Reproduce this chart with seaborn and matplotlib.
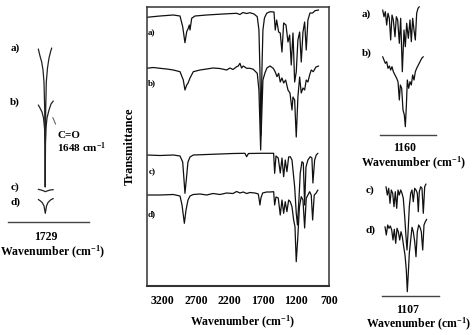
import numpy as np
import pandas as pd
import matplotlib
matplotlib.use("Agg")
import matplotlib.pyplot as plt
import seaborn as sns

# ---------------- data (wavenumber cm-1, relative transmittance) ----------------
# main panel spectra
a_wn = [3440, 3240, 3041, 2940, 2900, 2866, 2840, 2816, 2801, 2790, 2765, 2716, 2540, 2296, 2090, 2041, 1996,
        1940, 1891, 1830, 1781, 1756, 1741, 1726, 1711, 1696, 1673, 1640, 1590, 1530, 1511, 1490, 1460, 1436,
        1410, 1385, 1350, 1320, 1295, 1271, 1245, 1220, 1196, 1171, 1145, 1121, 1095, 1070, 1046, 1021, 990,
        950, 915, 860]
a_T = [95.7, 97, 98, 97, 86.3, 70.3, 81.3, 84.7, 88, 83, 94.7, 97, 98, 99, 99.7, 98.5, 100.5,
       99.5, 100.3, 99, 96.3, 83, 43, -22, 43, 83, 95, 99.7, 101.3, 101, 83, 93, 81, 80,
       61, 90, 88, 71, 78, 48, 80, 31, 41, 73, 81, 51, 81, 91, 63, 93, 100,
       100, 102.3, 103]

b_wn = [3440, 3345, 3240, 3140, 3041, 2940, 2891, 2866, 2840, 2821, 2790, 2741, 2640, 2540, 2446, 2341, 2240,
        2190, 2146, 2090, 2066, 2041, 2016, 1991, 1940, 1891, 1841, 1781, 1756, 1730, 1711, 1696, 1666, 1636,
        1590, 1541, 1511, 1485, 1460, 1436, 1410, 1385, 1355, 1320, 1290, 1260, 1245, 1220, 1196, 1171, 1145,
        1121, 1095, 1070, 1046, 1021, 995, 971, 941, 900, 860]
b_T = [99.7, 100.5, 99.7, 99, 98, 96.3, 88, 78, 83, 84.7, 90, 96.3, 98, 99, 100, 99.5, 98,
       100, 98.5, 101.3, 102, 104.7, 100, 102, 99.7, 99.7, 98.7, 94.7, 78, 18, 58, 88, 95, 100,
       102, 99.7, 96, 91.3, 94.7, 86, 90, 85, 88, 78, 75, 58, 71, 68, 31, 71, 91,
       75, 80, 78, 88, 86, 93, 98, 96.3, 101, 102]

c_wn = [3440, 3240, 3041, 2940, 2900, 2880, 2866, 2846, 2821, 2790, 2741, 2540, 2341, 2146, 1966, 1940, 1913,
        1741, 1535, 1520, 1500, 1466, 1436, 1410, 1385, 1361, 1336, 1310, 1286, 1260, 1220, 1196, 1178, 1156,
        1136, 1110, 1090, 1070, 1050, 1021, 986, 961, 946, 920, 896, 871]
c_T = [100, 99.5, 100, 99, 93, 75, 61.7, 75, 93, 98, 100, 100.5, 101, 101.5, 101.7, 98.3, 101.5,
       101.7, 101.7, 81.7, 99, 97, 82, 97, 78.3, 95, 83.3, 98, 98.3, 95, 68.3, 42, 30, 55,
       82, 93.3, 92, 50, 88, 95, 98.3, 97, 72, 95, 100, 101.7]

d_wn = [3440, 3240, 3041, 2940, 2910, 2875, 2850, 2820, 2790, 2741, 2640, 2540, 2446, 2341, 2240, 2146, 2090,
        2041, 1991, 1940, 1891, 1815, 1766, 1751, 1741, 1726, 1700, 1640, 1590, 1535, 1520, 1500, 1466, 1436,
        1410, 1385, 1361, 1336, 1310, 1286, 1260, 1235, 1215, 1196, 1175, 1148, 1121, 1095, 1070, 1046, 1021,
        995, 971, 950, 926, 900, 871]
d_T = [98, 98, 98.5, 97, 88, 69.7, 83, 93, 97, 98.5, 99, 98, 99.5, 98.5, 100, 99.5, 101.5,
       100, 101, 99.5, 100.5, 100, 99, 93, 88, 95, 100, 101, 101, 101.3, 88, 96, 95, 78,
       93, 79.7, 91.3, 81.3, 93, 91.3, 86.3, 73, 66.3, 31.3, 53, 86.3, 96.3, 93, 65, 94.7, 98,
       101.3, 98, 73, 98, 99.7, 103]

# left inset (around 1729 cm-1)
ia_wn = [1743, 1739.6, 1736.2, 1733.6, 1731.6, 1730.2, 1729.2, 1728.2, 1727, 1724.6, 1721.6, 1718.6, 1716.2]
ia_T = [101, 94, 88, 80, 68, 40, -37, 40, 68, 82, 92, 98, 102]
ib_wn = [1743, 1739.6, 1735.6, 1732.6, 1730.6, 1729, 1727.6, 1725.6, 1721.6, 1717.6, 1713]
ib_T = [97, 94, 90, 84, 74, 57, 74, 84, 92, 98, 101]
ic_wn = [1743, 1737.6, 1732.6, 1729, 1725.6, 1719.6, 1713]
ic_T = [100.7, 100, 99.2, 98.3, 99, 100, 100.3]
id_wn = [1743, 1738.6, 1734.6, 1731.6, 1729, 1726.6, 1723.6, 1718.6, 1713]
id_T = [100.5, 99, 97, 94, 86.7, 94, 97.5, 100, 101.5]

# top right inset (around 1160 cm-1)
ra_wn = [1249.3, 1244, 1238.7, 1233.3, 1228, 1222.7, 1217.3, 1212, 1206.7, 1200, 1194.7, 1189.3, 1182.7, 1177.3,
         1170.7, 1164, 1158.7, 1153.3, 1146.7, 1140, 1134.7, 1129.3, 1124, 1118.7, 1113.3, 1108, 1102.7]
ra_T = [100, 93.3, 98.3, 85, 96.7, 91.7, 70, 95, 90, 73.3, 93.3, 90, 66.7, 91.7,
        38.3, 80, 63.3, 86.7, 71.7, 90, 68.3, 91.7, 80, 70, 96.7, 101.7, 103.3]
rb_wn = [1249.3, 1244, 1238.7, 1233.3, 1228, 1222.7, 1217.3, 1212, 1206.7, 1200, 1193.3, 1188, 1182.7, 1178.7,
         1173.3, 1168, 1162.7, 1158.7, 1154.7, 1150.7, 1145.3, 1140, 1134.7, 1129.3, 1124, 1118.7, 1113.3, 1106.7,
         1100, 1093.3, 1086.7]
rb_T = [100.3, 97, 93.7, 95.3, 88.7, 91, 87, 90.3, 85.3, 82, 78.7, 75.3, 57, 72,
        68.7, 47, 42, 30.3, 50.3, 77, 68.7, 75.3, 72, 82, 77, 85.3, 88.7, 92,
        95.3, 98.7, 100.3]

# bottom right inset (around 1107 cm-1)
rc_wn = [1193.8, 1188.5, 1183, 1177.8, 1172.6, 1167, 1161.8, 1156.6, 1151, 1145.8, 1140.6, 1135, 1129.8, 1124.6,
         1119, 1113.8, 1109.8, 1105.8, 1100.6, 1095, 1089.8, 1084.6, 1079, 1073.8, 1068.6, 1064.6, 1060.6, 1055,
         1049.8, 1044.6, 1039, 1033.8]
rc_T = [100.3, 92, 98.7, 83.7, 97, 93.7, 80.3, 95.3, 78.7, 97, 92, 97, 93.7, 88.7,
        70.3, 50.3, 37, 53.7, 80.3, 93.7, 97, 85.3, 98.7, 97, 93.7, 75.3, 95.3, 100.3,
        98.7, 73.7, 100.3, 103]
rd_wn = [1197.8, 1192.6, 1187, 1181.8, 1176.6, 1171, 1165.8, 1160.6, 1155, 1149.8, 1144.6, 1139, 1133.8, 1128.6,
         1123, 1117.8, 1112.6, 1108.6, 1104.6, 1100.6, 1095, 1089.8, 1084.6, 1079, 1073.8, 1068.6, 1063, 1057.8,
         1052.6, 1047, 1041.8, 1036.6, 1031]
rd_T = [99.3, 91, 101, 97.7, 100, 96, 86, 96.7, 82.7, 97.7, 94.3, 86, 94.3, 89.3,
        79.3, 71, 56, 34.3, 52.7, 72.7, 86, 98.7, 94.3, 84.3, 69.3, 94.3, 101, 98.7,
        94.3, 76, 101, 104.3, 106.7]

main_ticks = [3200, 2700, 2200, 1700, 1200, 700]
main_tick_labels = ["3200", "2700", "2200", "1700", "1200", "700"]
labels = ["a)", "b)", "c)", "d)"]

# ---------------- style ----------------
sns.set_style("white")
plt.rcParams["font.family"] = ["Liberation Serif", "DejaVu Serif"]
plt.rcParams["font.weight"] = "bold"
plt.rcParams["mathtext.fontset"] = "custom"
plt.rcParams["mathtext.rm"] = "Liberation Serif:bold"
plt.rcParams["mathtext.bf"] = "Liberation Serif:bold"
plt.rcParams["mathtext.it"] = "Liberation Serif:bold"

W, H = 474, 335
fig = plt.figure(figsize=(W / 100, H / 100), dpi=100)
fig.patch.set_facecolor("white")


def box(x0, y0, x1, y1):
    return fig.add_axes([x0 / W, 1 - y1 / H, (x1 - x0) / W, (y1 - y0) / H])


def ftext(px, py, s, size, ha="center", va="center", rot=0):
    fig.text(px / W, 1 - py / H, s, fontsize=size, ha=ha, va=va, rotation=rot,
             fontweight="bold", color="black")


def trace(ax, wn, T, offset, lw=0.9, color="#111111"):
    df = pd.DataFrame({"wn": wn, "y": np.asarray(T, dtype=float) + offset})
    sns.lineplot(data=df, x="wn", y="y", ax=ax, sort=False, estimator=None,
                 color=color, lw=lw)


def inset_axis(axi, ticks, ticklabels, pad):
    axi.set_xticks(ticks)
    axi.set_xticklabels(ticklabels, fontsize=8.5, fontweight="bold")
    axi.set_yticks([])
    axi.tick_params(axis="x", direction="inout", length=4, width=0.9, pad=pad, colors="black")
    axi.set_xlabel("")
    axi.set_ylabel("")
    axi.patch.set_alpha(0)
    for k in ["left", "right", "top"]:
        axi.spines[k].set_visible(False)
    axi.spines["bottom"].set_color("#444444")
    axi.spines["bottom"].set_linewidth(1.0)


WNLABEL = r"Wavenumber (cm$^{-1}$)"
SPINE = "#333333"

# ---------------- main panel ----------------
ax = box(146.7, 7, 329.3, 286)
for wn, T, off in [(a_wn, a_T, 173), (b_wn, b_T, 118), (c_wn, c_T, 31), (d_wn, d_T, -7)]:
    trace(ax, wn, T, off)
ax.set_xlim(3440, 700)
ax.set_ylim(0, 279)
ax.set_xticks(main_ticks)
ax.set_xticklabels(main_tick_labels, fontsize=8.5, fontweight="bold")
ax.set_yticks([])
ax.tick_params(axis="x", direction="out", length=2.5, width=1, pad=4, colors="black")
ax.set_xlabel("")
ax.set_ylabel("")
for s in ax.spines.values():
    s.set_visible(True)
    s.set_color(SPINE)
    s.set_linewidth(1.1)
ax.spines["bottom"].set_linewidth(1.5)
for lab, py in zip(labels, [33.3, 83.3, 171.7, 214]):
    ftext(152, py, lab, 6.5)
ftext(242.5, 322, WNLABEL, 8.5)
ftext(130, 146, "Transmittance", 9, rot=90)

# ---------------- left inset ----------------
axl = box(8.3, 40, 89.3, 221.7)
for wn, T, off in [(ia_wn, ia_T, 71.7), (ib_wn, ib_T, 19.7), (ic_wn, ic_T, -68.3), (id_wn, id_T, -78.3)]:
    trace(axl, wn, T, off, lw=0.9, color="#222222")
axl.set_xlim(1803, 1641)
axl.set_ylim(0, 181.7)
inset_axis(axl, [1803, 1729, 1641], ["", "1729", ""], 5)
axl.annotate("", xy=(1716.2, 106.7), xytext=(1706.2, 95),
             arrowprops=dict(arrowstyle="-", color="#666666", lw=0.8), annotation_clip=False)
for lab, py in zip(labels, [48, 101.7, 186.7, 201.7]):
    ftext(15, py, lab, 8)
ftext(57, 136, "C=O", 8, ha="left")
ftext(57, 148, r"1648 cm$^{-1}$", 8, ha="left")
ftext(53, 252.7, WNLABEL, 8.5)

# ---------------- top-right inset ----------------
axr1 = box(380, 3, 436, 135)
trace(axr1, ra_wn, ra_T, 25)
trace(axr1, rb_wn, rb_T, -22)
axr1.set_xlim(1260, 1036)
axr1.set_ylim(0, 132)
inset_axis(axr1, [1260, 1160, 1036], ["", "1160", ""], 3)
ftext(366.7, 14, "a)", 8)
ftext(366.7, 53.3, "b)", 8)
ftext(414, 163.3, WNLABEL, 8.5)

# ---------------- bottom-right inset ----------------
axr2 = box(381.7, 178, 439.3, 296)
trace(axr2, rc_wn, rc_T, 9)
trace(axr2, rd_wn, rd_T, -30)
axr2.set_xlim(1211, 980.6)
axr2.set_ylim(0, 118)
inset_axis(axr2, [1211, 1107, 980.6], ["", "1107", ""], 3.5)
ftext(370, 190, "c)", 8)
ftext(370, 230, "d)", 8)
ftext(419, 324, WNLABEL, 8.5)

fig.savefig("out.png", dpi=100, facecolor="white")
